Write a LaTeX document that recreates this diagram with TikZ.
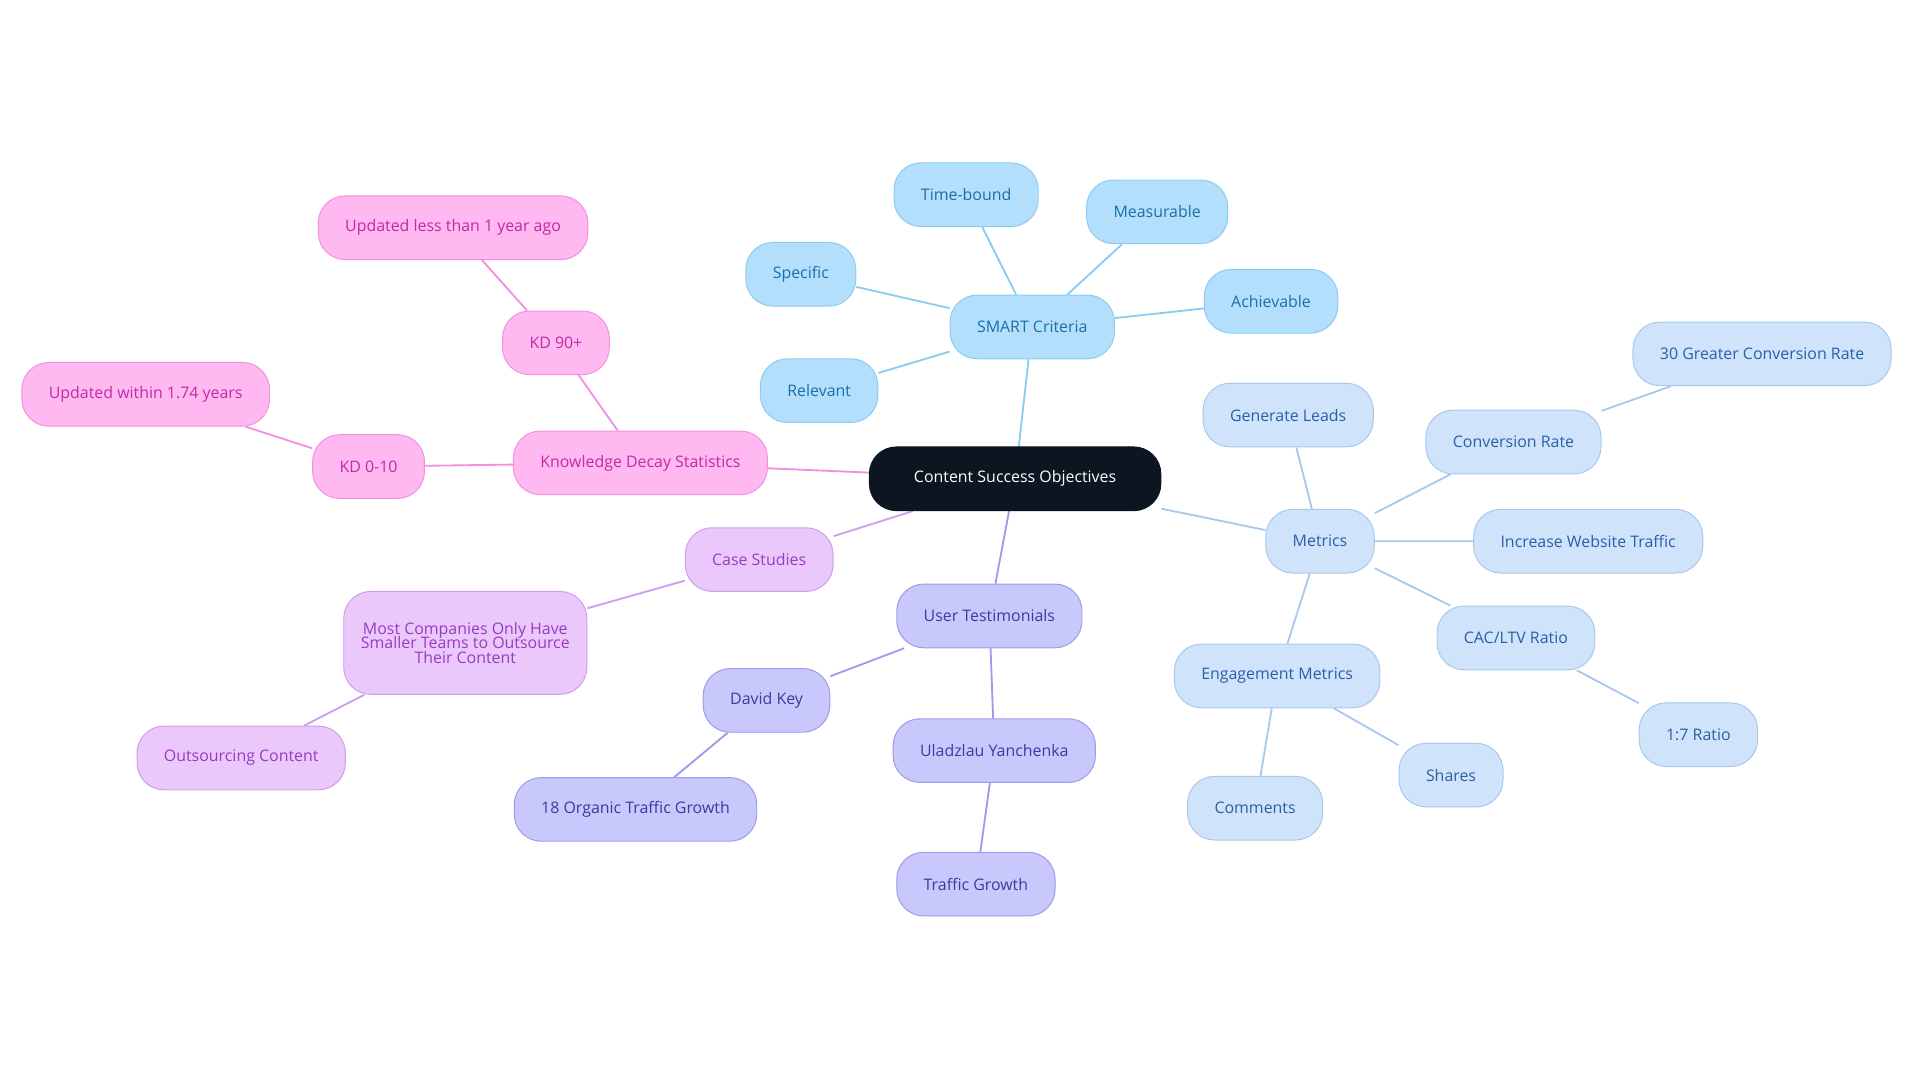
\documentclass[tikz,border=0pt]{standalone}
\usepackage{fontspec}
\setmainfont{Open Sans}
\usetikzlibrary{backgrounds}
\definecolor{skyF}{HTML}{B3DFFC}\definecolor{skyD}{HTML}{8CCBF0}\definecolor{skyT}{HTML}{1A6FA8}
\definecolor{lbF}{HTML}{CFE3FA}\definecolor{lbD}{HTML}{A8C8EE}\definecolor{lbT}{HTML}{2A5FA8}
\definecolor{puF}{HTML}{C8C8FC}\definecolor{puD}{HTML}{9C9CE8}\definecolor{puT}{HTML}{3A3AA0}
\definecolor{laF}{HTML}{EBC8FC}\definecolor{laD}{HTML}{D09CEC}\definecolor{laT}{HTML}{9A3AC0}
\definecolor{piF}{HTML}{FFB8F0}\definecolor{piD}{HTML}{F090E0}\definecolor{piT}{HTML}{C02AA8}
\definecolor{ctr}{HTML}{0D1520}
\begin{document}
\begin{tikzpicture}[x=1pt,y=-1pt,
 base/.style={rounded corners=22pt,minimum height=52pt,inner xsep=22pt,font=\fontsize{13}{15}\selectfont,align=center,line width=0.8pt},
 sky/.style={base,fill=skyF,draw=skyD,text=skyT},
 lb/.style={base,fill=lbF,draw=lbD,text=lbT},
 pu/.style={base,fill=puF,draw=puD,text=puT},
 la/.style={base,fill=laF,draw=laD,text=laT},
 pi/.style={base,fill=piF,draw=piD,text=piT},
 e/.style={line width=1.5pt}]
\useasboundingbox (0,0) rectangle (1568,884);
\node[base,fill=ctr,draw=ctr,text=white,minimum width=238pt] (c) at (829,391) {Content Success Objectives};
\node[sky] (smart) at (843,267) {SMART Criteria};
\node[sky] (tb) at (789,159) {Time-bound};
\node[sky] (me) at (945,173) {Measurable};
\node[sky] (sp) at (654,224) {Specific};
\node[sky] (ac) at (1038,246) {Achievable};
\node[sky] (re) at (669,319) {Relevant};
\node[lb] (met) at (1078,442) {Metrics};
\node[lb] (gl) at (1052,339) {Generate Leads};
\node[lb] (cr) at (1236,361) {Conversion Rate};
\node[lb] (g30) at (1439,289) {30 Greater Conversion Rate};
\node[lb] (iwt) at (1297,442) {Increase Website Traffic};
\node[lb] (cac) at (1238,521) {CAC/LTV Ratio};
\node[lb] (r17) at (1387,600) {1:7 Ratio};
\node[lb] (em) at (1043,552) {Engagement Metrics};
\node[lb] (sh) at (1185,633) {Shares};
\node[lb] (co) at (1025,660) {Comments};
\node[pu] (ut) at (808,503) {User Testimonials};
\node[pu] (dk) at (626,572) {David Key};
\node[pu] (otg) at (519,661) {18 Organic Traffic Growth};
\node[pu] (uy) at (812,613) {Uladzlau Yanchenka};
\node[pu] (tg) at (797,722) {Traffic Growth};
\node[la] (cs) at (620,457) {Case Studies};
\node[la,minimum height=84pt,inner xsep=14pt] (mc) at (380,525) {Most Companies Only Have\\[-3pt]Smaller Teams to Outsource\\[-3pt]Their Content};
\node[la] (oc) at (197,619) {Outsourcing Content};
\node[pi] (kd) at (523,378) {Knowledge Decay Statistics};
\node[pi] (k010) at (301,381) {KD 0-10};
\node[pi] (k90) at (454,280) {KD 90+};
\node[pi] (u174) at (119,322) {Updated within 1.74 years};
\node[pi] (u1) at (370,186) {Updated less than 1 year ago};
\begin{scope}[on background layer]
\draw[e,skyD] (c)--(smart) (smart)--(tb) (smart)--(me) (smart)--(sp) (smart)--(ac) (smart)--(re);
\draw[e,lbD] (c)--(met) (met)--(gl) (met)--(cr) (cr)--(g30) (met)--(iwt) (met)--(cac) (cac)--(r17) (met)--(em) (em)--(sh) (em)--(co);
\draw[e,puD] (c)--(ut) (ut)--(dk) (dk)--(otg) (ut)--(uy) (uy)--(tg);
\draw[e,laD] (c)--(cs) (cs)--(mc) (mc)--(oc);
\draw[e,piD] (c)--(kd) (kd)--(k010) (kd)--(k90) (k010)--(u174) (k90)--(u1);
\end{scope}
\end{tikzpicture}
\end{document}
